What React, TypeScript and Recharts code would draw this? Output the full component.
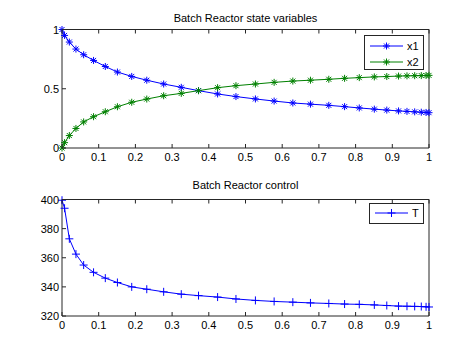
import React from 'react';
import { LineChart, Line, XAxis, YAxis } from 'recharts';

// time grid (collocation points)
const time = [0, 0.007, 0.02, 0.038, 0.059, 0.086, 0.118, 0.151, 0.19, 0.231, 0.277, 0.325, 0.372, 0.424, 0.474, 0.527, 0.578, 0.629, 0.677, 0.727, 0.77, 0.81, 0.851, 0.885, 0.917, 0.94, 0.961, 0.979, 0.992, 1.0];
const x1 = [1.0, 0.95, 0.894, 0.835, 0.787, 0.739, 0.688, 0.641, 0.604, 0.572, 0.54, 0.512, 0.484, 0.456, 0.434, 0.414, 0.396, 0.38, 0.37, 0.36, 0.349, 0.338, 0.328, 0.32, 0.313, 0.309, 0.305, 0.302, 0.3, 0.298];
const x2 = [0, 0.045, 0.105, 0.165, 0.22, 0.264, 0.306, 0.348, 0.386, 0.413, 0.441, 0.461, 0.484, 0.509, 0.526, 0.54, 0.554, 0.565, 0.572, 0.58, 0.588, 0.594, 0.6, 0.603, 0.607, 0.609, 0.61, 0.611, 0.612, 0.613];
const temp = [399.5, 394, 373, 362.5, 355, 350, 346, 343, 340, 338.4, 336.6, 335, 334, 333, 331.7, 330.7, 330, 329.5, 329, 328.6, 328.2, 328, 327.6, 327.2, 326.8, 326.7, 326.6, 326.5, 326.3, 326.2];

const xTicks = [0, 0.1, 0.2, 0.3, 0.4, 0.5, 0.6, 0.7, 0.8, 0.9, 1];
const stateTicks = [0, 0.5, 1];
const tempTicks = [320, 340, 360, 380, 400];

const stateData = time.map((t, i) => ({ t, x1: x1[i], x2: x2[i] }));
const tempData = time.map((t, i) => ({ t, T: temp[i] }));

const FONT = '"Liberation Sans", Arial, Helvetica, sans-serif';
const AX = '#262626';
const BLUE = '#0000ff';
const GREEN = '#008000';

const fmt = (v: number) => String(Number(v.toFixed(1)));

// MATLAB style inward ticks
const BottomTick = ({ x, y, payload }: any) => (
  <g>
    <line x1={x} x2={x} y1={y} y2={y - 4} stroke={AX} />
    <text x={x} y={y + 13} textAnchor="middle" fontSize={11} fontFamily={FONT} fill="#000">{fmt(payload.value)}</text>
  </g>
);
const TopTick = ({ x, y }: any) => <line x1={x} x2={x} y1={y} y2={y + 4} stroke={AX} />;
const LeftTick = ({ x, y, payload }: any) => (
  <g>
    <line x1={x} x2={x + 4} y1={y} y2={y} stroke={AX} />
    <text x={x - 3} y={y + 4} textAnchor="end" fontSize={11} fontFamily={FONT} fill="#000">{fmt(payload.value)}</text>
  </g>
);
const RightTick = ({ x, y }: any) => <line x1={x} x2={x - 4} y1={y} y2={y} stroke={AX} />;

const Star = ({ cx, cy, color }: any) => {
  const r = 3.5;
  const d = 2.5;
  return (
    <g stroke={color} strokeWidth={1}>
      <line x1={cx - r} x2={cx + r} y1={cy} y2={cy} />
      <line x1={cx} x2={cx} y1={cy - r} y2={cy + r} />
      <line x1={cx - d} x2={cx + d} y1={cy - d} y2={cy + d} />
      <line x1={cx - d} x2={cx + d} y1={cy + d} y2={cy - d} />
    </g>
  );
};
const Plus = ({ cx, cy, color }: any) => (
  <g stroke={color} strokeWidth={1}>
    <line x1={cx - 4} x2={cx + 4} y1={cy} y2={cy} />
    <line x1={cx} x2={cx} y1={cy - 4} y2={cy + 4} />
  </g>
);

const axes = (domain: number[], yTicks: number[]) => [
  <XAxis key="xb" xAxisId="b" dataKey="t" type="number" domain={[0, 1]} ticks={xTicks} interval={0}
    height={20} tickSize={0} tickMargin={0} stroke={AX} tick={<BottomTick />} />,
  <XAxis key="xt" xAxisId="t" orientation="top" dataKey="t" type="number" domain={[0, 1]} ticks={xTicks} interval={0}
    height={1} tickSize={0} tickMargin={0} stroke={AX} tick={<TopTick />} />,
  <YAxis key="yl" yAxisId="l" type="number" domain={domain} ticks={yTicks} interval={0}
    width={40} tickSize={0} tickMargin={0} stroke={AX} tick={<LeftTick />} />,
  <YAxis key="yr" yAxisId="r" orientation="right" type="number" domain={domain} ticks={yTicks} interval={0}
    width={5} tickSize={0} tickMargin={0} stroke={AX} tick={<RightTick />} />,
];

const legendBox: React.CSSProperties = {
  position: 'absolute',
  border: `1px solid ${AX}`,
  background: '#fff',
  fontFamily: FONT,
  fontSize: 11,
  boxSizing: 'border-box',
};

const LegendRow = ({ label, color, marker, top }: any) => (
  <div style={{ position: 'absolute', left: 5, top, height: 14, display: 'flex', alignItems: 'center' }}>
    <svg width={33} height={14}>
      <line x1={0} x2={33} y1={7} y2={7} stroke={color} />
      {marker === 'star' ? <Star cx={16.5} cy={7} color={color} /> : <Plus cx={16.5} cy={7} color={color} />}
    </svg>
    <span style={{ marginLeft: 4, lineHeight: '14px' }}>{label}</span>
  </div>
);

const titleStyle: React.CSSProperties = {
  position: 'absolute',
  left: 62,
  width: 367,
  textAlign: 'center',
  fontFamily: FONT,
  fontSize: 11,
  lineHeight: '13px',
  color: '#000',
};

export default function App() {
  return (
    <div style={{ position: 'absolute', left: 0, top: 0, width: 474, height: 355, background: '#fff', overflow: 'hidden' }}>
      <div style={{ ...titleStyle, top: 12 }}>Batch Reactor state variables</div>
      <div style={{ position: 'absolute', left: 0, top: 0 }}>
        <LineChart width={474} height={175} data={stateData} margin={{ top: 28.5, right: 40, bottom: 7, left: 22 }}>
          {axes([0, 1], stateTicks)}
          <Line xAxisId="b" yAxisId="l" type="linear" dataKey="x1" stroke={BLUE} strokeWidth={1}
            dot={(p: any) => <Star key={`a${p.index}`} cx={p.cx} cy={p.cy} color={BLUE} />} isAnimationActive={false} />
          <Line xAxisId="b" yAxisId="l" type="linear" dataKey="x2" stroke={GREEN} strokeWidth={1}
            dot={(p: any) => <Star key={`b${p.index}`} cx={p.cx} cy={p.cy} color={GREEN} />} isAnimationActive={false} />
        </LineChart>
      </div>
      <div style={{ ...legendBox, left: 364, top: 35, width: 60, height: 35 }}>
        <LegendRow label="x1" color={BLUE} marker="star" top={3} />
        <LegendRow label="x2" color={GREEN} marker="star" top={19} />
      </div>

      <div style={{ ...titleStyle, top: 179 }}>Batch Reactor control</div>
      <div style={{ position: 'absolute', left: 0, top: 170 }}>
        <LineChart width={474} height={175} data={tempData} margin={{ top: 28.5, right: 40, bottom: 9, left: 22 }}>
          {axes([320, 400], tempTicks)}
          <Line xAxisId="b" yAxisId="l" type="linear" dataKey="T" stroke={BLUE} strokeWidth={1}
            dot={(p: any) => <Plus key={`c${p.index}`} cx={p.cx} cy={p.cy} color={BLUE} />} isAnimationActive={false} />
        </LineChart>
      </div>
      <div style={{ ...legendBox, left: 369, top: 203, width: 55, height: 21 }}>
        <LegendRow label="T" color={BLUE} marker="plus" top={2} />
      </div>
    </div>
  );
}
